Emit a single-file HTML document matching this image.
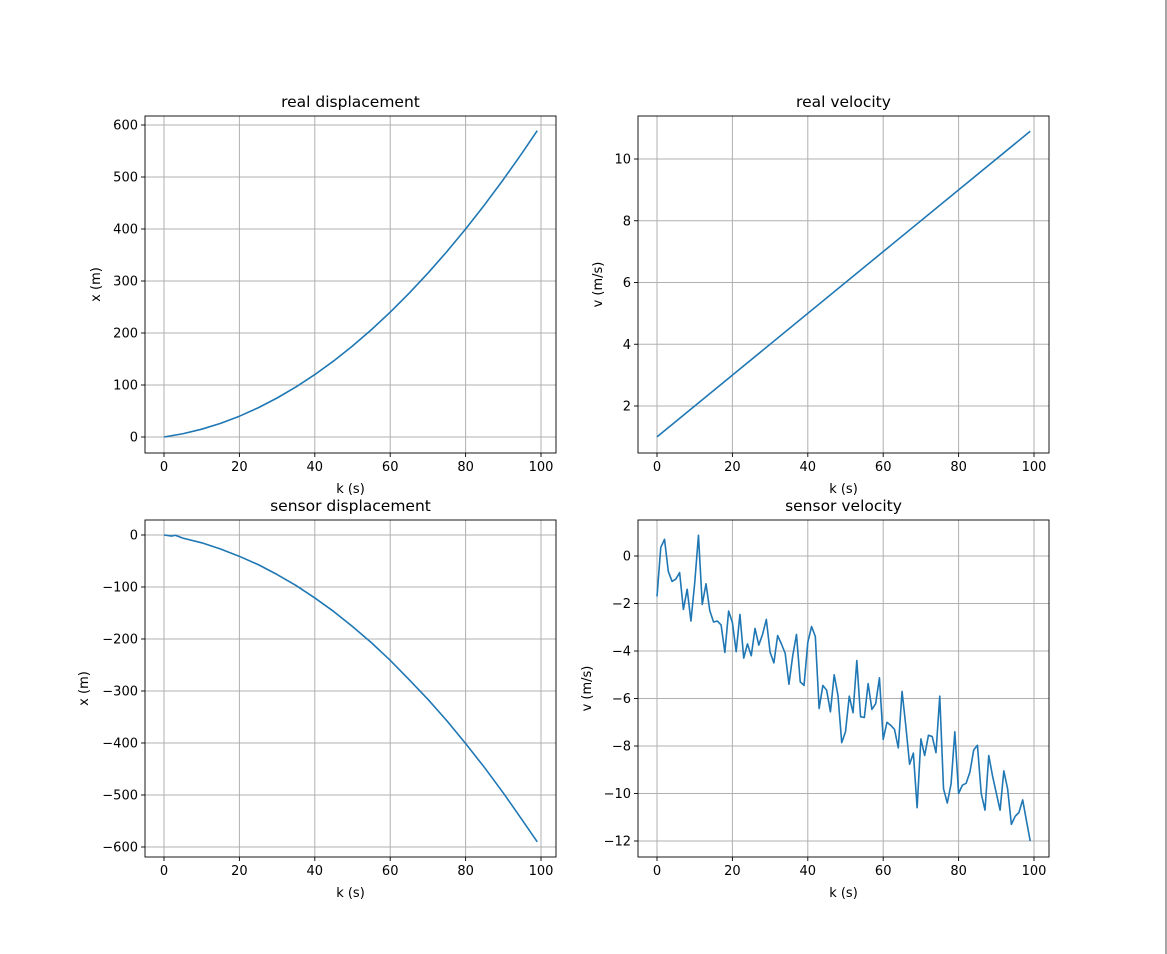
<!DOCTYPE html>
<html><head><meta charset="utf-8"><style>
body{margin:0;background:#fff;}
svg{display:block;font-family:"DejaVu Sans","Liberation Sans",sans-serif;}
</style></head><body>
<svg id="fig" width="1167" height="954" xmlns="http://www.w3.org/2000/svg">
<rect x="0" y="0" width="1167" height="954" fill="#fff"/>
<line x1="1166" y1="0" x2="1166" y2="954" stroke="#888" stroke-width="1.5"/>
</svg>
<script>
const realDispK=[0,5,10,15,20,25,30,35,40,45,50,55,60,65,70,75,80,85,90,95,99];
const realDispX=[0,6.25,15,26.25,40,56.25,75,96.25,120,146.25,175,206.25,240,276.25,315,356.25,400,446.25,495,546.25,589];
const realVelK=[0,99];
const realVelV=[1,10.9];
const sensDispK=[0,2,3,5,10,15,20,25,30,35,40,45,50,55,60,65,70,75,80,85,90,95,99];
const sensDispX=[0,-2,-0.5,-6,-15,-27,-41,-57,-76,-97,-121,-147,-176,-207,-241,-278,-316,-357,-401,-447,-496,-548,-590];
const sensVelV=[-1.7,0.36,0.7,-0.65,-1.07,-0.97,-0.7,-2.25,-1.4,-2.74,-1.14,0.87,-2.04,-1.17,-2.3,-2.78,-2.74,-2.9,-4.06,-2.32,
-2.8,-4.03,-2.46,-4.3,-3.7,-4.2,-3.05,-3.75,-3.3,-2.67,-4.05,-4.5,-3.35,-3.7,-4.1,-5.4,-4.2,-3.3,-5.3,-5.45,
-3.64,-2.97,-3.39,-6.42,-5.45,-5.65,-6.56,-5.0,-5.87,-7.86,-7.4,-5.9,-6.6,-4.4,-6.77,-6.8,-5.37,-6.46,-6.22,-5.13,
-7.72,-7.0,-7.13,-7.3,-8.08,-5.7,-7.16,-8.77,-8.3,-10.6,-7.7,-8.4,-7.55,-7.6,-8.28,-5.9,-9.8,-10.4,-9.6,-7.4,
-10.0,-9.65,-9.57,-9.1,-8.17,-7.97,-10.0,-10.7,-8.4,-9.26,-9.98,-10.7,-9.05,-9.8,-11.3,-10.96,-10.8,-10.27,-11.15,-12.0];
const xTicks=[0,20,40,60,80,100];
const tlYTicks=[0,100,200,300,400,500,600];
const trYTicks=[2,4,6,8,10];
const blYTicks=[0,-100,-200,-300,-400,-500,-600];
const brYTicks=[0,-2,-4,-6,-8,-10,-12];

const NS="http://www.w3.org/2000/svg";
const svg=document.getElementById('fig');
function mk(tag,attrs,parent){const e=document.createElementNS(NS,tag);for(const k in attrs)e.setAttribute(k,attrs[k]);(parent||svg).appendChild(e);return e;}

function panel(o){
  const g=mk('g',{});
  
  
  const sx=v=>o.x0+(v-0)*(o.x100-o.x0)/100;
  const sy=v=>o.ya+(v-o.va)*(o.yb-o.ya)/(o.vb-o.va);
  // grid
  xTicks.forEach(t=>{const X=sx(t);
    const l=mk('line',{x1:X,x2:X,y1:o.top,y2:o.bot,stroke:'#b0b0b0','stroke-width':1},g);
    
    mk('line',{x1:X,x2:X,y1:o.bot,y2:o.bot+4,stroke:'#000','stroke-width':0.9},g);
    const t2=mk('text',{x:X,y:o.bot+18,'font-size':13,'text-anchor':'middle',fill:'#000'},g);t2.textContent=t;
    
  });
  o.yt.forEach(t=>{const Y=sy(t);
    const l=mk('line',{x1:o.left,x2:o.right,y1:Y,y2:Y,stroke:'#b0b0b0','stroke-width':1},g);
    
    mk('line',{x1:o.left-4,x2:o.left,y1:Y,y2:Y,stroke:'#000','stroke-width':0.9},g);
    const t2=mk('text',{x:o.left-7,y:Y+4.5,'font-size':13,'text-anchor':'end',fill:'#000'},g);t2.textContent=String(t).replace('-','\u2212');
    
  });
  // line
  let d='';o.k.forEach((k,i)=>{d+=(i?'L':'M')+sx(k).toFixed(2)+','+sy(o.v[i]).toFixed(2);});
  const p=mk('path',{d:d,fill:'none',stroke:'#1f77b4','stroke-width':1.6,'stroke-linejoin':'round'},g);
  
  const r=mk('rect',{x:o.left,y:o.top,width:o.right-o.left,height:o.bot-o.top,fill:'none',stroke:'#000','stroke-width':0.9},g);
  
  const ti=mk('text',{x:(o.left+o.right)/2,y:o.top-9,'font-size':15.5,'text-anchor':'middle'},g);ti.textContent=o.title;
  
  const xl=mk('text',{x:(o.left+o.right)/2,y:o.bot+40,'font-size':13,'text-anchor':'middle'},g);xl.textContent='k (s)';
  
  const yc=(o.top+o.bot)/2;
  const yl=mk('text',{x:o.ylx,y:yc,'font-size':13,'text-anchor':'middle',transform:'rotate(-90 '+o.ylx+' '+yc+')'},g);yl.textContent=o.ylabel;
  
}
const kAll=sensVelV.map((_,i)=>i);
panel({name:'real-displacement-panel',title:'real displacement',ylabel:'x (m)',left:145,right:556,top:116,bot:453,x0:164,x100:541,ya:437,va:0,yb:125,vb:600,yt:tlYTicks,k:realDispK,v:realDispX,ylx:100});
panel({name:'real-velocity-panel',title:'real velocity',ylabel:'v (m/s)',left:638,right:1049,top:116,bot:453,x0:657,x100:1034,ya:406,va:2,yb:159,vb:10,yt:trYTicks,k:realVelK,v:realVelV,ylx:602});
panel({name:'sensor-displacement-panel',title:'sensor displacement',ylabel:'x (m)',left:145,right:556,top:520,bot:857,x0:164,x100:541,ya:535,va:0,yb:847,vb:-600,yt:blYTicks,k:sensDispK,v:sensDispX,ylx:88});
panel({name:'sensor-velocity-panel',title:'sensor velocity',ylabel:'v (m/s)',left:638,right:1049,top:520,bot:857,x0:657,x100:1034,ya:556,va:0,yb:841,vb:-12,yt:brYTicks,k:kAll,v:sensVelV,ylx:591});
</script>
</body></html>
